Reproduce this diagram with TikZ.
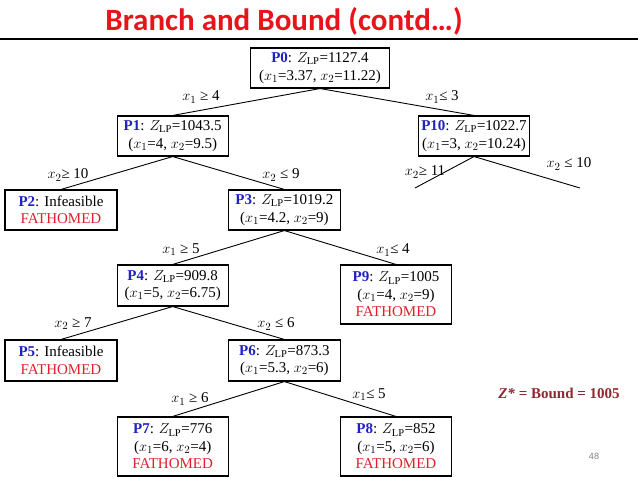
\documentclass[tikz,border=0pt]{standalone}
\usepackage{fontspec}
\setmainfont{Liberation Serif}
\newfontfamily\titlefont{Carlito}
\newfontfamily\numfont{Liberation Sans}
\definecolor{pblue}{HTML}{1F22C0}
\definecolor{fred}{HTML}{E0202A}
\definecolor{tred}{HTML}{E8141C}
\definecolor{zred}{HTML}{8E2A2E}
\begin{document}
\begin{tikzpicture}[x=1pt,y=-1pt,
  box/.style={draw,line width=1.1pt,inner sep=0pt,align=center,font=\fontsize{15}{17.5}\selectfont},
  edge/.style={line width=0.9pt},
  lab/.style={font=\fontsize{15}{17}\selectfont,inner sep=0pt}]
\useasboundingbox[fill=white] (0,0) rectangle (638,478);
\node[text=tred,font=\titlefont\bfseries\fontsize{31}{34}\selectfont] (title) at (284,21) {Branch and Bound (contd…)};
\draw[line width=1.4pt] (0,39) -- (638,39);
\node[box,minimum width=139pt,minimum height=40pt] (p0) at (320,68) {\textbf{\color{pblue}P0}: $Z_{\mathrm{LP}}$=1127.4\\($x_1$=3.37, $x_2$=11.22)};
\node[box,minimum width=111pt,minimum height=40pt] (p1) at (172.7,136) {\textbf{\color{pblue}P1}: $Z_{\mathrm{LP}}$=1043.5\\($x_1$=4, $x_2$=9.5)};
\node[box,minimum width=111pt,minimum height=40pt] (p10) at (474,136) {\textbf{\color{pblue}P10}: $Z_{\mathrm{LP}}$=1022.7\\($x_1$=3, $x_2$=10.24)};
\node[box,minimum width=112pt,minimum height=40pt] (p2) at (61,210) {\textbf{\color{pblue}P2}: Infeasible\\{\color{fred}FATHOMED}};
\node[box,minimum width=112pt,minimum height=40pt] (p3) at (284.4,210) {\textbf{\color{pblue}P3}: $Z_{\mathrm{LP}}$=1019.2\\($x_1$=4.2, $x_2$=9)};
\node[box,minimum width=111pt,minimum height=41pt] (p4) at (172.7,285.5) {\textbf{\color{pblue}P4}: $Z_{\mathrm{LP}}$=909.8\\($x_1$=5, $x_2$=6.75)};
\node[box,minimum width=111pt,minimum height=59pt] (p9) at (396,294.5) {\textbf{\color{pblue}P9}: $Z_{\mathrm{LP}}$=1005\\($x_1$=4, $x_2$=9)\\{\color{fred}FATHOMED}};
\node[box,minimum width=112pt,minimum height=41pt] (p5) at (61,360.5) {\textbf{\color{pblue}P5}: Infeasible\\{\color{fred}FATHOMED}};
\node[box,minimum width=112pt,minimum height=41pt] (p6) at (284.4,360.5) {\textbf{\color{pblue}P6}: $Z_{\mathrm{LP}}$=873.3\\($x_1$=5.3, $x_2$=6)};
\node[box,minimum width=111pt,minimum height=59pt] (p7) at (172.7,446.5) {\textbf{\color{pblue}P7}: $Z_{\mathrm{LP}}$=776\\($x_1$=6, $x_2$=4)\\{\color{fred}FATHOMED}};
\node[box,minimum width=111pt,minimum height=59pt] (p8) at (396,446.5) {\textbf{\color{pblue}P8}: $Z_{\mathrm{LP}}$=852\\($x_1$=5, $x_2$=6)\\{\color{fred}FATHOMED}};
\coordinate (f1) at (415,188);
\coordinate (f2) at (580,188);
\draw[edge] (p0.south) -- (p1.north);
\draw[edge] (p0.south) -- (p10.north);
\draw[edge] (p1.south) -- (p2.north);
\draw[edge] (p1.south) -- (p3.north);
\draw[edge] (p10.south) -- (f1);
\draw[edge] (p10.south) -- (f2);
\draw[edge] (p3.south) -- (p4.north);
\draw[edge] (p3.south) -- (p9.north);
\draw[edge] (p4.south) -- (p5.north);
\draw[edge] (p4.south) -- (p6.north);
\draw[edge] (p6.south) -- (p7.north);
\draw[edge] (p6.south) -- (p8.north);
\node[lab] (l1) at (201,97) {$x_1$ ≥ 4};
\node[lab] (l2) at (442,97) {$x_1$≤ 3};
\node[lab] (l3) at (68,175) {$x_2$≥ 10};
\node[lab] (l4) at (281,175) {$x_2$ ≤ 9};
\node[lab] (l5) at (425,172) {$x_2$≥ 11};
\node[lab] (l6) at (569,164) {$x_2$ ≤ 10};
\node[lab] (l7) at (181,250) {$x_1$ ≥ 5};
\node[lab] (l8) at (393,250) {$x_1$≤ 4};
\node[lab] (l9) at (73,324) {$x_2$ ≥ 7};
\node[lab] (l10) at (276,324) {$x_2$ ≤ 6};
\node[lab] (l11) at (190,399) {$x_1$ ≥ 6};
\node[lab] (l12) at (369,395) {$x_1$≤ 5};
\node[lab,text=zred,font=\bfseries\fontsize{15}{17}\selectfont] (z) at (559,393) {\textit{Z*} = Bound = 1005};
\node[lab,text=gray,font=\numfont\fontsize{9}{10}\selectfont] (pg) at (594,456) {48};
\end{tikzpicture}
\end{document}
